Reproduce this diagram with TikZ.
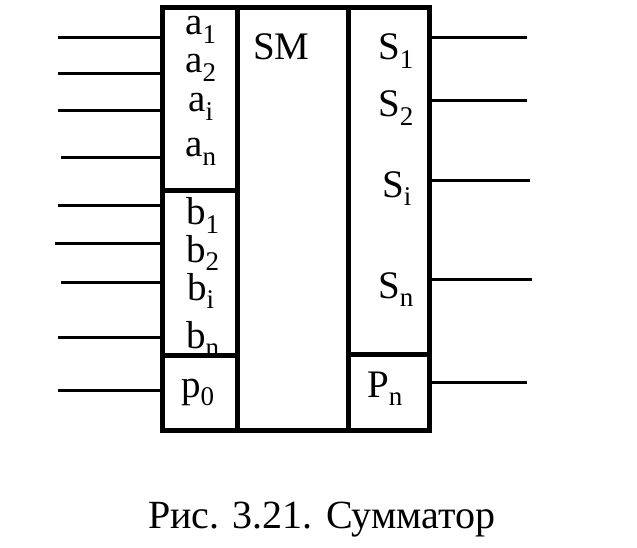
\documentclass[tikz,border=0pt]{standalone}
\usepackage{fontspec}
\setmainfont{Liberation Serif}
\newcommand{\lowidx}[1]{\raisebox{-0.45ex}{\fontsize{27}{27}\selectfont #1}}
\begin{document}
\begin{tikzpicture}[x=1pt,y=-1pt,box line/.style={line width=5pt},pin line/.style={line width=3pt},lbl/.style={font=\fontsize{39}{41}\selectfont,inner sep=0pt,anchor=base west}]
\useasboundingbox (0,0) rectangle (637,548);
% labels
\node[lbl] (a1) at (185,35) {a\lowidx{1}};
\node[lbl] (a2) at (185,73) {a\lowidx{2}};
\node[lbl] (ai) at (188,112) {a\lowidx{i}};
\node[lbl] (an) at (185,157) {a\lowidx{n}};
\node[lbl] (b1) at (186,225) {b\lowidx{1}};
\node[lbl] (b2) at (186,262) {b\lowidx{2}};
\node[lbl] (bi) at (187,300) {b\lowidx{i}};
\node[lbl] (bn) at (186,348) {b\lowidx{n}};
\node[lbl] (p0) at (181,397) {p\lowidx{0}};
\node[lbl] (sm) at (253,60) {SM};
\node[lbl] (s1) at (378,60) {S\lowidx{1}};
\node[lbl] (s2) at (378,117) {S\lowidx{2}};
\node[lbl] (si) at (382,197) {S\lowidx{i}};
\node[lbl] (sn) at (378,298) {S\lowidx{n}};
\node[lbl] (pn) at (367,397) {P\lowidx{n}};
% box
\coordinate (tl) at (162,8);
\coordinate (br) at (429,430);
\draw[box line] (tl) rectangle (br);
\draw[box line] (237,8) -- (237,430);
\draw[box line] (348,8) -- (348,430);
\draw[box line] (162,191) -- (237,191);
\draw[box line] (162,355) -- (237,355);
\draw[box line] (348,354) -- (429,354);
% inputs
\foreach \y/\x [count=\k] in {38/58,74/58,111/58,158/61,206/58,243/55,282/61,337/58,390/58}{
  \coordinate (in\k) at (\x,\y);
  \coordinate (ib\k) at (162,\y);
  \draw[pin line] (in\k) -- (ib\k);
}
% outputs
\foreach \y/\x [count=\k] in {38/527,101/527,181/530,279/532,382/527}{
  \coordinate (ob\k) at (429,\y);
  \coordinate (out\k) at (\x,\y);
  \draw[pin line] (ob\k) -- (out\k);
}
\node[font=\fontsize{40}{42}\selectfont,inner sep=0pt,anchor=base west] (caption) at (148,528) {Рис. 3.21. Сумматор};
\end{tikzpicture}
\end{document}
